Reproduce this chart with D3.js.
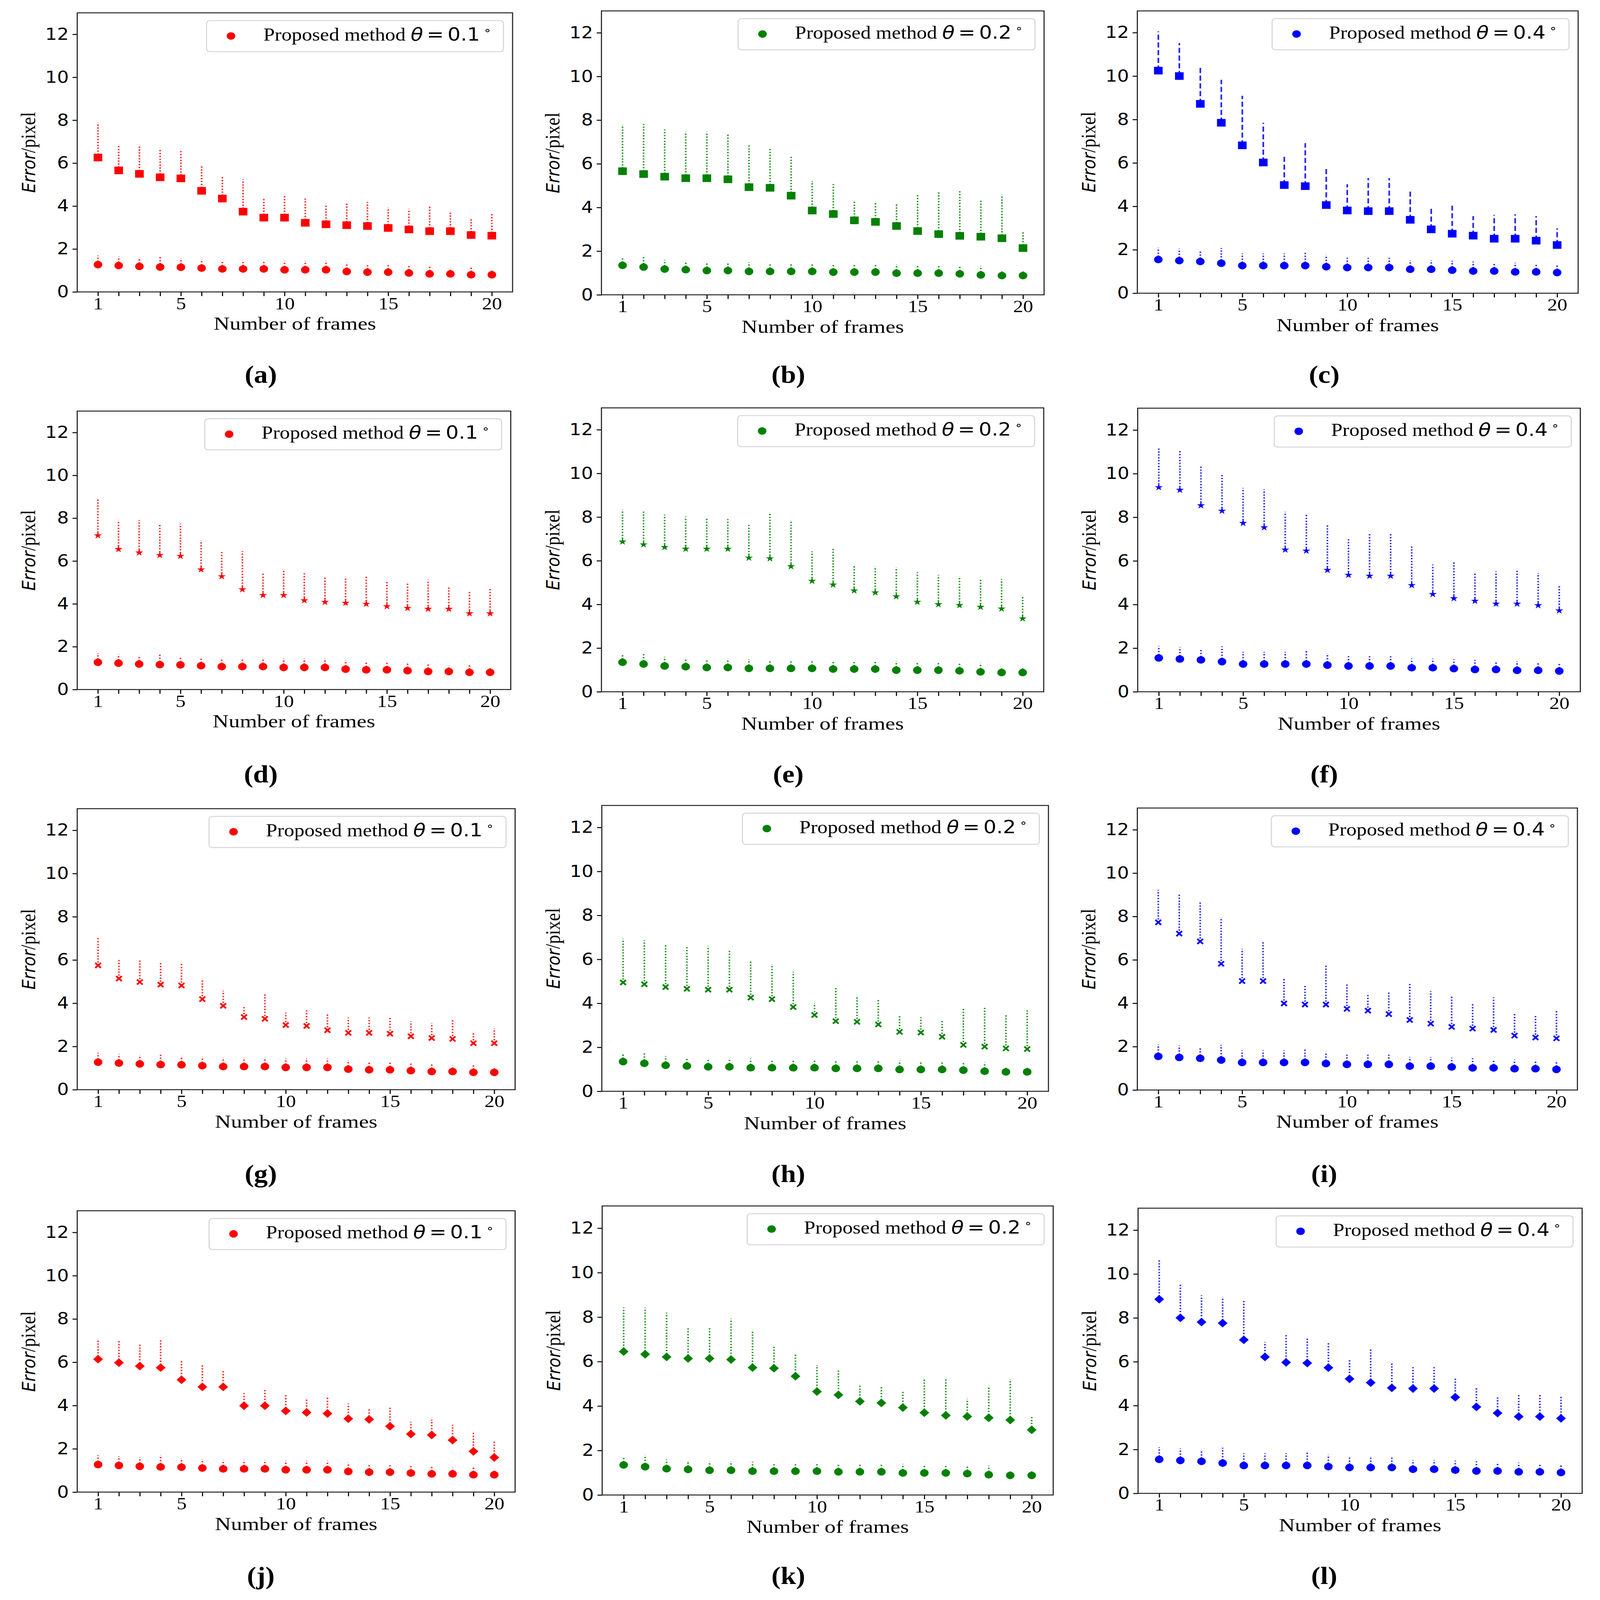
<!DOCTYPE html>
<html>
<head>
<meta charset="utf-8">
<script src="https://cdn.jsdelivr.net/npm/d3@7"></script>
<style>
html,body{margin:0;padding:0;background:#fff;overflow:hidden}
svg{display:block;width:100vw;height:100vh}
</style>
</head>
<body>
<svg id="fig" viewBox="0 0 4392 4982" preserveAspectRatio="none"></svg>
<script>
var frames = [1,2,3,4,5,6,7,8,9,10,11,12,13,14,15,16,17,18,19,20]
var xTickLabels = [1,5,10,15,20]
var yTicks = [0,2,4,6,8,10,12]
var thetas = ['0.1','0.2','0.4']
var panelNames = ['(a)','(b)','(c)','(d)','(e)','(f)','(g)','(h)','(i)','(j)','(k)','(l)']

// lower series (proposed method), one per column
var redCircle = [1.27,1.23,1.19,1.16,1.15,1.11,1.07,1.07,1.07,1.03,1.03,1.03,0.95,0.92,0.92,0.88,0.84,0.84,0.80,0.80]
var redCircleTop = [1.70,1.65,1.60,1.70,1.56,1.52,1.48,1.48,1.48,1.45,1.45,1.45,1.36,1.32,1.32,1.26,1.24,1.12,1.17,1.07]
var greenCircle = [1.35,1.27,1.18,1.15,1.11,1.11,1.07,1.07,1.07,1.07,1.04,1.04,1.04,0.99,0.99,0.99,0.96,0.91,0.88,0.88]
var greenCircleTop = [1.74,1.80,1.60,1.55,1.51,1.51,1.49,1.46,1.46,1.46,1.43,1.43,1.43,1.40,1.35,1.35,1.35,1.32,1.13,1.13]
var blueCircle = [1.55,1.50,1.46,1.38,1.27,1.27,1.27,1.27,1.22,1.18,1.18,1.18,1.10,1.10,1.06,1.02,1.02,0.98,0.98,0.95]
var blueCircleTop = [2.10,2.05,1.99,2.08,1.83,1.83,1.83,1.88,1.76,1.63,1.63,1.63,1.52,1.52,1.49,1.46,1.42,1.40,1.37,1.31]

// upper series, one per panel
var redSquare = [6.26,5.66,5.50,5.34,5.29,4.71,4.35,3.74,3.46,3.46,3.22,3.15,3.11,3.07,2.98,2.91,2.83,2.83,2.65,2.62]
var redSquareTop = [7.88,6.82,6.82,6.68,6.64,5.90,5.39,5.24,4.35,4.50,4.35,4.10,4.15,4.19,3.93,3.87,4.01,3.69,3.43,3.64]
var greenSquare = [5.66,5.53,5.41,5.34,5.34,5.29,4.93,4.90,4.54,3.86,3.70,3.41,3.34,3.15,2.92,2.78,2.70,2.66,2.59,2.14]
var greenSquareTop = [7.79,7.82,7.57,7.47,7.47,7.37,6.87,6.71,6.37,5.21,5.07,4.31,4.23,4.17,4.58,4.71,4.78,4.31,4.58,2.93]
var blueSquare = [10.25,10.00,8.72,7.85,6.81,6.02,4.98,4.93,4.06,3.81,3.78,3.78,3.38,2.94,2.74,2.65,2.51,2.51,2.42,2.22]
var blueSquareTop = [12.06,11.52,10.43,9.83,9.09,7.85,6.36,6.91,5.75,5.02,5.30,5.30,4.80,3.95,4.03,3.55,3.61,3.63,3.55,2.99]

var redStar = [7.19,6.55,6.39,6.27,6.23,5.60,5.28,4.67,4.40,4.40,4.16,4.08,4.04,3.99,3.88,3.80,3.76,3.76,3.55,3.55]
var redStarTop = [8.94,7.91,7.91,7.76,7.74,6.96,6.48,6.46,5.45,5.60,5.43,5.26,5.24,5.34,5.08,5.02,5.13,4.79,4.59,4.76]
var greenStar = [6.87,6.74,6.62,6.54,6.54,6.54,6.13,6.10,5.74,5.07,4.90,4.63,4.54,4.36,4.11,4.00,3.96,3.88,3.80,3.35]
var greenStarTop = [8.34,8.25,8.11,8.02,7.98,7.91,7.64,8.22,7.83,6.43,6.58,5.82,5.74,5.69,5.47,5.35,5.29,5.21,5.16,4.40]
var blueStar = [9.37,9.25,8.54,8.29,7.73,7.53,6.51,6.46,5.58,5.35,5.31,5.31,4.88,4.47,4.28,4.16,4.03,4.03,3.96,3.72]
var blueStarTop = [11.19,11.08,10.38,9.96,9.34,9.28,8.25,8.11,7.66,6.99,7.27,7.27,6.70,5.83,5.94,5.42,5.52,5.55,5.44,4.91]

var redCross = [5.75,5.14,4.98,4.86,4.82,4.19,3.88,3.36,3.28,2.99,2.95,2.75,2.63,2.63,2.59,2.47,2.39,2.35,2.15,2.15]
var redCrossTop = [7.06,6.03,6.03,5.87,5.82,5.07,4.58,3.88,4.47,3.56,3.67,3.50,3.33,3.34,3.37,3.16,3.08,3.22,2.68,2.84]
var greenCross = [4.95,4.87,4.74,4.66,4.62,4.62,4.26,4.19,3.83,3.47,3.19,3.16,3.04,2.70,2.67,2.48,2.11,2.03,1.95,1.92]
var greenCrossTop = [6.94,6.87,6.66,6.61,6.61,6.45,5.95,5.78,5.44,4.02,4.71,4.35,4.15,3.43,3.37,3.24,3.80,3.87,3.46,3.68]
var blueCross = [7.73,7.21,6.85,5.82,5.02,5.02,3.99,3.94,3.94,3.74,3.66,3.50,3.23,3.06,2.91,2.83,2.77,2.51,2.42,2.38]
var blueCrossTop = [9.23,9.03,8.68,7.96,6.51,6.82,5.17,4.81,5.77,4.92,4.38,4.53,4.89,4.56,4.34,4.00,4.27,3.51,3.45,3.71]

var redDiamond = [6.14,5.98,5.82,5.75,5.19,4.86,4.86,3.99,3.99,3.75,3.68,3.63,3.39,3.36,3.04,2.68,2.64,2.40,1.88,1.60]
var redDiamondTop = [7.02,7.02,6.84,7.08,6.07,5.88,5.59,4.57,4.72,4.54,4.30,4.36,4.09,3.88,3.92,3.25,3.35,3.11,2.77,2.33]
var greenDiamond = [6.45,6.33,6.21,6.14,6.14,6.09,5.73,5.70,5.34,4.65,4.50,4.21,4.14,3.93,3.70,3.58,3.53,3.47,3.37,2.93]
var greenDiamondTop = [8.43,8.43,8.20,7.50,7.50,7.93,7.43,6.74,6.38,5.84,5.66,4.94,4.85,4.70,5.20,5.26,4.33,4.91,5.20,3.53]
var blueDiamond = [8.85,8.00,7.81,7.76,7.00,6.22,5.97,5.94,5.73,5.22,5.05,4.81,4.78,4.78,4.38,3.94,3.66,3.50,3.50,3.42]
var blueDiamondTop = [10.68,9.52,9.03,8.94,8.81,6.90,7.26,7.12,6.90,6.10,6.57,5.98,5.75,5.75,5.27,4.84,4.37,4.51,4.54,4.45]

var colors = ['#ff0000','#008000','#0000ff']
var lowers = [[redCircle,redCircleTop],[greenCircle,greenCircleTop],[blueCircle,blueCircleTop]]
var uppers = [
	[[redSquare,redSquareTop],[greenSquare,greenSquareTop],[blueSquare,blueSquareTop]],
	[[redStar,redStarTop],[greenStar,greenStarTop],[blueStar,blueStarTop]],
	[[redCross,redCrossTop],[greenCross,greenCrossTop],[blueCross,blueCrossTop]],
	[[redDiamond,redDiamondTop],[greenDiamond,greenDiamondTop],[blueDiamond,blueDiamondTop]]
]
var shapes = ['square','star','cross','diamond']

// axes boxes [left, right, top, bottom]
var boxes = [
	[212,1407,40,909],[1651,2866,34,918],[3122,4332,34,913],
	[212,1402,1280,2147],[1651,2865,1270,2154],[3123,4338,1271,2154],
	[212,1414,2518,3393],[1652,2878,2508,3398],[3122,4330,2516,3394],
	[212,1414,3770,4646],[1653,2891,3755,4655],[3124,4343,3762,4650]
]
var labelX = [716,2164,3635]
var labelY = [1192,2436,3680,4932]

var SERIF = '"Liberation Serif", "DejaVu Serif", serif'
var SANS = '"DejaVu Sans", sans-serif'

var svg = d3.select('svg#fig')

function drawPanel(i){
	var row = Math.floor(i / 3)
	var col = i % 3
	var b = boxes[i]
	var color = colors[col]
	var g = svg.append('g')

	var x = d3.scaleLinear().domain([0,21]).range([b[0],b[1]])
	var y = d3.scaleLinear().domain([0,13]).range([b[3],b[2]])

	// x axis: ticks every frame, labels at a few
	var xa = d3.axisBottom(x).tickValues(frames).tickSize(13).tickPadding(2)
		.tickFormat(function(d){ return xTickLabels.indexOf(d) >= 0 ? d : '' })
	var gx = g.append('g').attr('transform','translate(0,' + b[3] + ')').call(xa)
	gx.select('.domain').remove()
	gx.selectAll('line').attr('stroke','#000').attr('stroke-width',3)
	gx.selectAll('text').attr('font-family',SERIF).attr('font-size',55).attr('fill','#000')
		.attr('dy','0.71em')

	var ya = d3.axisLeft(y).tickValues(yTicks).tickSize(13).tickPadding(10)
	var gy = g.append('g').attr('transform','translate(' + b[0] + ',0)').call(ya)
	gy.select('.domain').remove()
	gy.selectAll('line').attr('stroke','#000').attr('stroke-width',3)
	gy.selectAll('text').attr('font-family',SANS).attr('font-size',51).attr('fill','#000')

	// error bars, then markers
	var sets = [
		{v: lowers[col][0], t: lowers[col][1], shape: 'circle', dash: '4,5'},
		{v: uppers[row][col][0], t: uppers[row][col][1], shape: shapes[row], dash: (i == 2 ? '16,8' : '4,5')}
	]
	sets.forEach(function(s){
		g.append('g').selectAll('line')
		.data(frames)
		.enter()
		.append('line')
		.attr('x1',function(d){ return x(d) })
		.attr('x2',function(d){ return x(d) })
		.attr('y1',function(d,k){ return y(s.v[k]) })
		.attr('y2',function(d,k){ return y(s.t[k]) })
		.attr('stroke',color)
		.attr('stroke-width',4.5)
		.attr('stroke-dasharray',s.dash)
		.attr('opacity',0.85)
	})
	sets.forEach(function(s){
		var m = g.append('g').selectAll('path')
		.data(frames)
		.enter()
		.append('path')
		marker(m, s.shape, color)
		m.attr('transform',function(d,k){
			var tr = 'translate(' + x(d) + ',' + y(s.v[k]) + ')'
			if(s.shape == 'diamond') tr += ' rotate(45)'
			return tr
		})
	})

	// frame
	g.append('rect')
	.attr('x',b[0]).attr('y',b[2])
	.attr('width',b[1]-b[0]).attr('height',b[3]-b[2])
	.attr('fill','none').attr('stroke','#222').attr('stroke-width',3)

	// labels
	g.append('text')
	.attr('x',(b[0]+b[1])/2).attr('y',b[3]+118)
	.attr('text-anchor','middle')
	.attr('font-family',SERIF).attr('font-size',56)
	.attr('textLength',446).attr('lengthAdjust','spacingAndGlyphs')
	.text('Number of frames')

	var yl = g.append('text')
	.attr('transform','translate(' + (b[0]-115) + ',' + ((b[2]+b[3])/2) + ') rotate(-90)')
	.attr('text-anchor','middle')
	.attr('font-size',56)
	yl.append('tspan').attr('font-family',SANS).attr('font-style','italic').attr('font-size',50).text('Error')
	yl.append('tspan').attr('font-family',SERIF).text('/pixel')

	// legend
	var lx = b[1] - 25 - 815
	var ly = b[2] + 24
	g.append('rect')
	.attr('x',lx).attr('y',ly).attr('width',815).attr('height',97)
	.attr('rx',9).attr('fill','#fff').attr('fill-opacity',0.8)
	.attr('stroke','#d6d6d6').attr('stroke-width',3)
	var lm = g.append('path').datum(1)
	marker(lm,'circle',color)
	lm.attr('transform','translate(' + (lx+67) + ',' + (ly+48) + ')')
	var lt = g.append('text')
	.attr('x',lx+156).attr('y',ly+62)
	.attr('font-size',56)
	lt.append('tspan').attr('font-family',SERIF).text('Proposed method')
	lt.append('tspan').attr('dx',14).attr('font-family',SANS).attr('font-style','italic').text('θ')
	lt.append('tspan').attr('dx',10).attr('font-family',SANS).text('=')
	lt.append('tspan').attr('dx',10).attr('font-family',SANS).text(thetas[col])
	lt.append('tspan').attr('dx',10).attr('font-family',SANS).attr('font-size',34).attr('dy',-20).text('∘')

	svg.append('text')
	.attr('x',labelX[col]).attr('y',labelY[row])
	.attr('text-anchor','middle')
	.attr('font-family',SERIF).attr('font-weight','bold').attr('font-size',76)
	.text(panelNames[i])
}

function marker(sel, shape, color){
	if(shape == 'square'){
		sel.attr('d',d3.symbol().type(d3.symbolSquare).size(560)).attr('fill',color)
	}else if(shape == 'star'){
		sel.attr('d',d3.symbol().type(d3.symbolStar).size(150)).attr('fill',color)
	}else if(shape == 'cross'){
		sel.attr('d',d3.symbol().type(d3.symbolTimes).size(160))
		.attr('fill','none').attr('stroke',color).attr('stroke-width',5)
	}else if(shape == 'diamond'){
		sel.attr('d',d3.symbol().type(d3.symbolSquare).size(360)).attr('fill',color)
	}else{
		sel.attr('d',d3.symbol().type(d3.symbolCircle).size(430)).attr('fill',color)
	}
}

for(var i=0;i<12;i++){
	drawPanel(i)
}
</script>
</body>
</html>
